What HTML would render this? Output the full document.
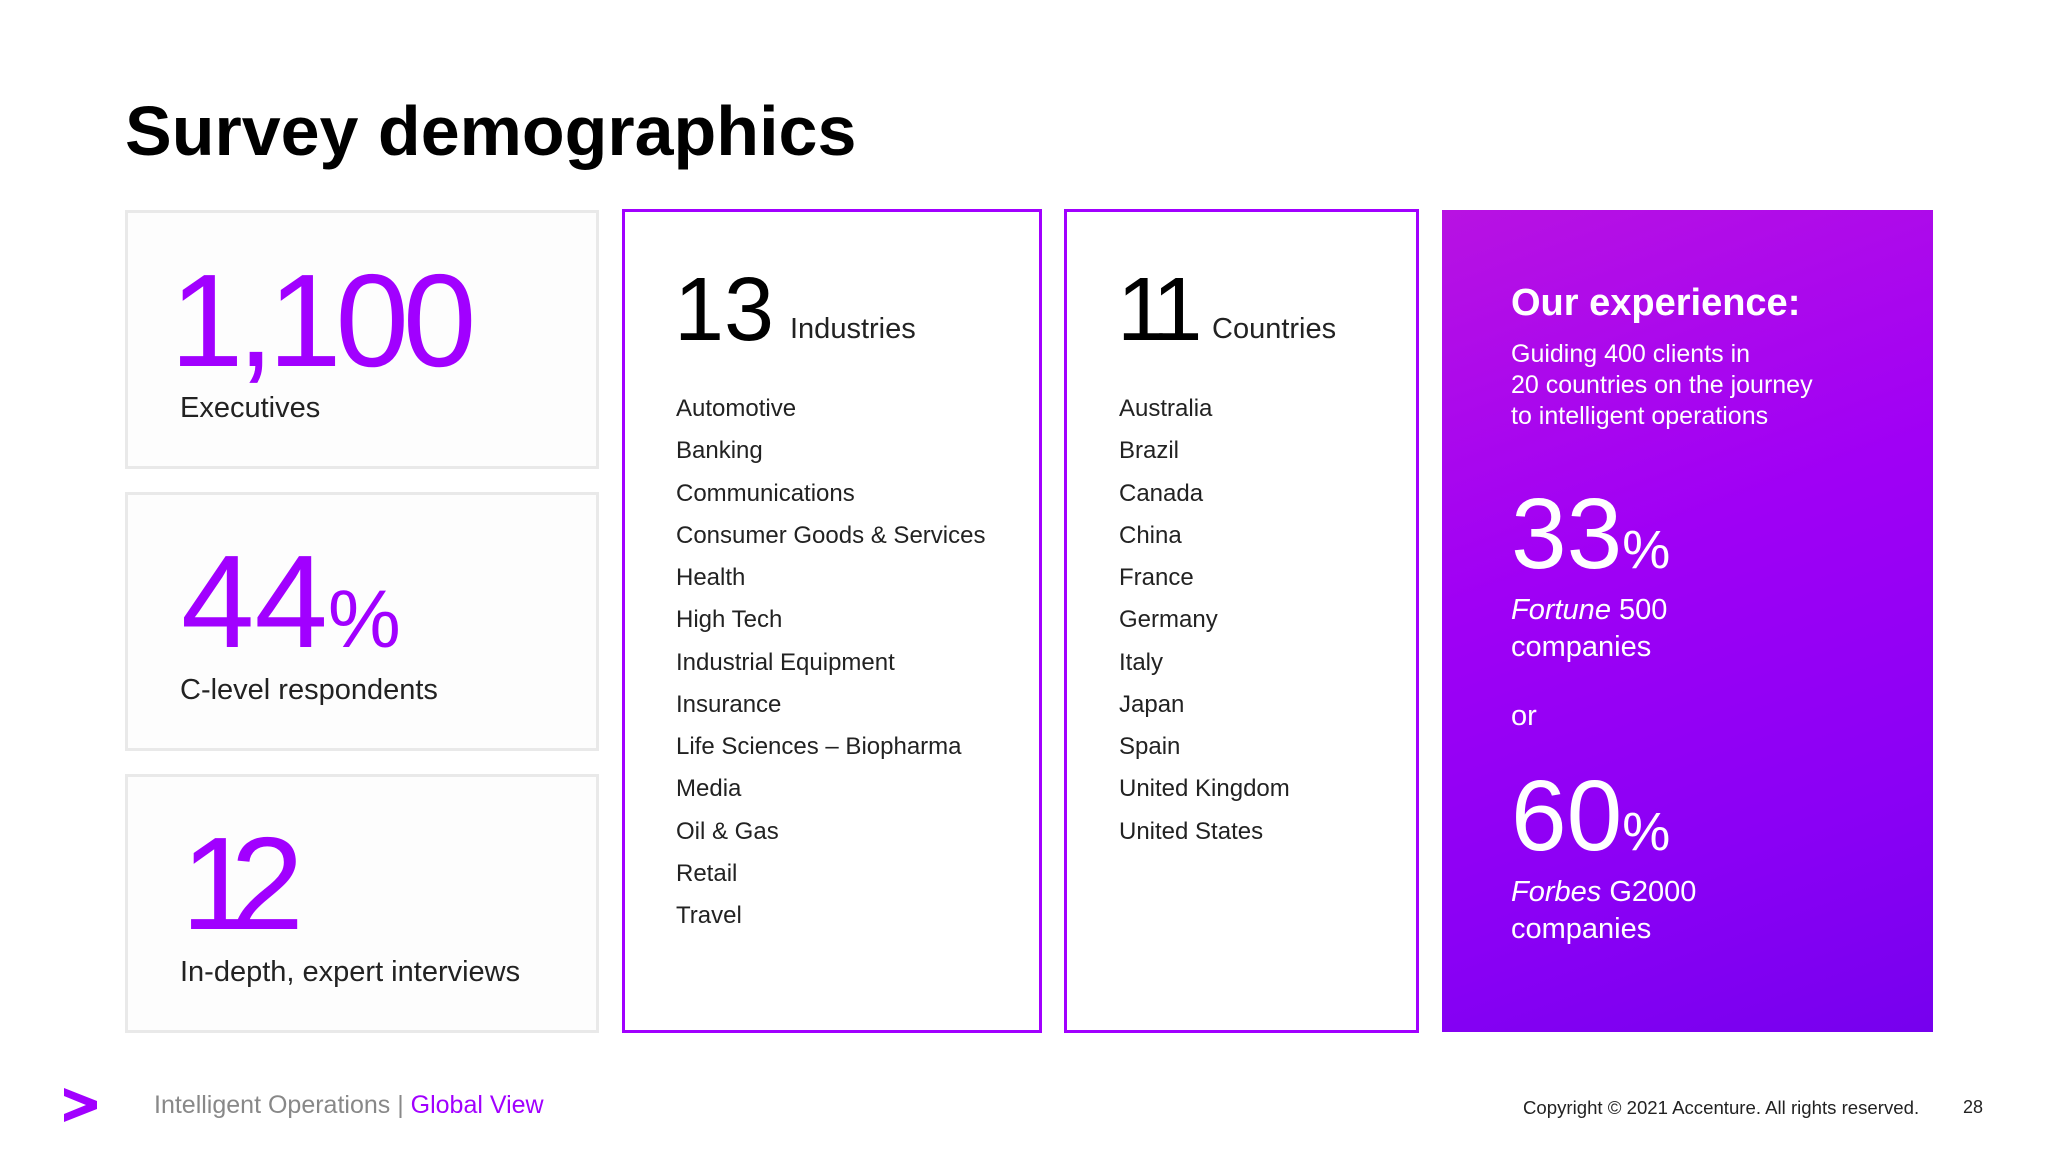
<!DOCTYPE html>
<html><head><meta charset="utf-8"><style>
*{margin:0;padding:0;box-sizing:border-box}
body{width:2048px;height:1152px;background:#fff;position:relative;overflow:hidden;font-family:"Liberation Sans",sans-serif;color:#1a1a1a}
.a{position:absolute;white-space:nowrap}
.box{position:absolute;background:#fdfdfd;border:3px solid #e9e9e9}
.pbox{position:absolute;border:3px solid #a100ff;background:#fff}
.big{color:#a100ff;font-size:132px;line-height:1}
.lbl{font-size:29px;color:#222}
.li{font-size:24px;color:#222;line-height:1}
.w{color:#fff}
</style></head><body>
<div class="a" style="left:125px;top:96px;font-size:70px;font-weight:bold;color:#000;line-height:1">Survey demographics</div>

<div class="box" style="left:125px;top:210px;width:474px;height:259px"></div>
<div class="a big" style="left:170px;top:255px;letter-spacing:-6px">1,100</div>
<div class="a lbl" style="left:180px;top:392px">Executives</div>

<div class="box" style="left:125px;top:492px;width:474px;height:259px"></div>
<div class="a big" style="left:181px;top:536px">44<span style="font-size:82px">%</span></div>
<div class="a lbl" style="left:180px;top:674px">C-level respondents</div>

<div class="box" style="left:125px;top:774px;width:474px;height:259px"></div>
<div class="a big" style="left:181px;top:818px;letter-spacing:-24px">12</div>
<div class="a lbl" style="left:180px;top:956px">In-depth, expert interviews</div>

<div class="pbox" style="left:622px;top:209px;width:420px;height:824px"></div>
<div class="a" style="left:674px;top:265px;font-size:90px;line-height:1;color:#000">13</div>
<div class="a lbl" style="left:790px;top:313px">Industries</div>
<div id="ind"></div>

<div class="pbox" style="left:1064px;top:209px;width:355px;height:824px"></div>
<div class="a" style="left:1117px;top:265px;font-size:90px;line-height:1;color:#000;letter-spacing:-8px">11</div>
<div class="a lbl" style="left:1212px;top:313px">Countries</div>
<div id="cty"></div>

<div class="a" style="left:1442px;top:210px;width:491px;height:822px;background:linear-gradient(160deg,#b812e2 0%,#a000f5 40%,#8a00f5 75%,#7600ee 100%)"></div>
<div class="a w" style="left:1511px;top:282px;font-size:38px;font-weight:bold">Our experience:</div>
<div class="a w" style="left:1511px;top:339px;font-size:25px;line-height:31px">Guiding 400 clients in<br>20 countries on the journey<br>to intelligent operations</div>
<div class="a w" style="left:1511px;top:484px;font-size:100px;line-height:1">33<span style="font-size:54px">%</span></div>
<div class="a w" style="left:1511px;top:592px;font-size:29px;line-height:37px"><i>Fortune</i> 500<br>companies</div>
<div class="a w" style="left:1511px;top:700px;font-size:29px">or</div>
<div class="a w" style="left:1511px;top:766px;font-size:100px;line-height:1">60<span style="font-size:54px">%</span></div>
<div class="a w" style="left:1511px;top:874px;font-size:29px;line-height:37px"><i>Forbes</i> G2000<br>companies</div>

<svg class="a" style="left:62px;top:1086px" width="38" height="38" viewBox="0 0 38 38"><polygon points="2,2 35,15 35,23 2,36 2,28 24,19 2,10" fill="#a100ff"/></svg>
<div class="a" style="left:154px;top:1091px;font-size:25px;color:#888">Intelligent Operations | <span style="color:#a100ff">Global View</span></div>
<div class="a" style="left:1523px;top:1097px;font-size:18.6px;color:#222">Copyright © 2021 Accenture. All rights reserved.</div>
<div class="a" style="left:1963px;top:1097px;font-size:18px;color:#222">28</div>

<script>
const industries=["Automotive","Banking","Communications","Consumer Goods & Services","Health","High Tech","Industrial Equipment","Insurance","Life Sciences – Biopharma","Media","Oil & Gas","Retail","Travel"];
const countries=["Australia","Brazil","Canada","China","France","Germany","Italy","Japan","Spain","United Kingdom","United States"];
function list(host,items,x,name){
  items.forEach((t,i)=>{
    const d=document.createElement('div');
    d.className='a li';
    d.style.left=x+'px';
    d.style.top=(397+i*42.25)+'px';
    d.textContent=t;
    
    
    host.appendChild(d);
  });
}
list(document.getElementById('ind'),industries,676,'industry-item');
list(document.getElementById('cty'),countries,1119,'country-item');
</script>
</body></html>
